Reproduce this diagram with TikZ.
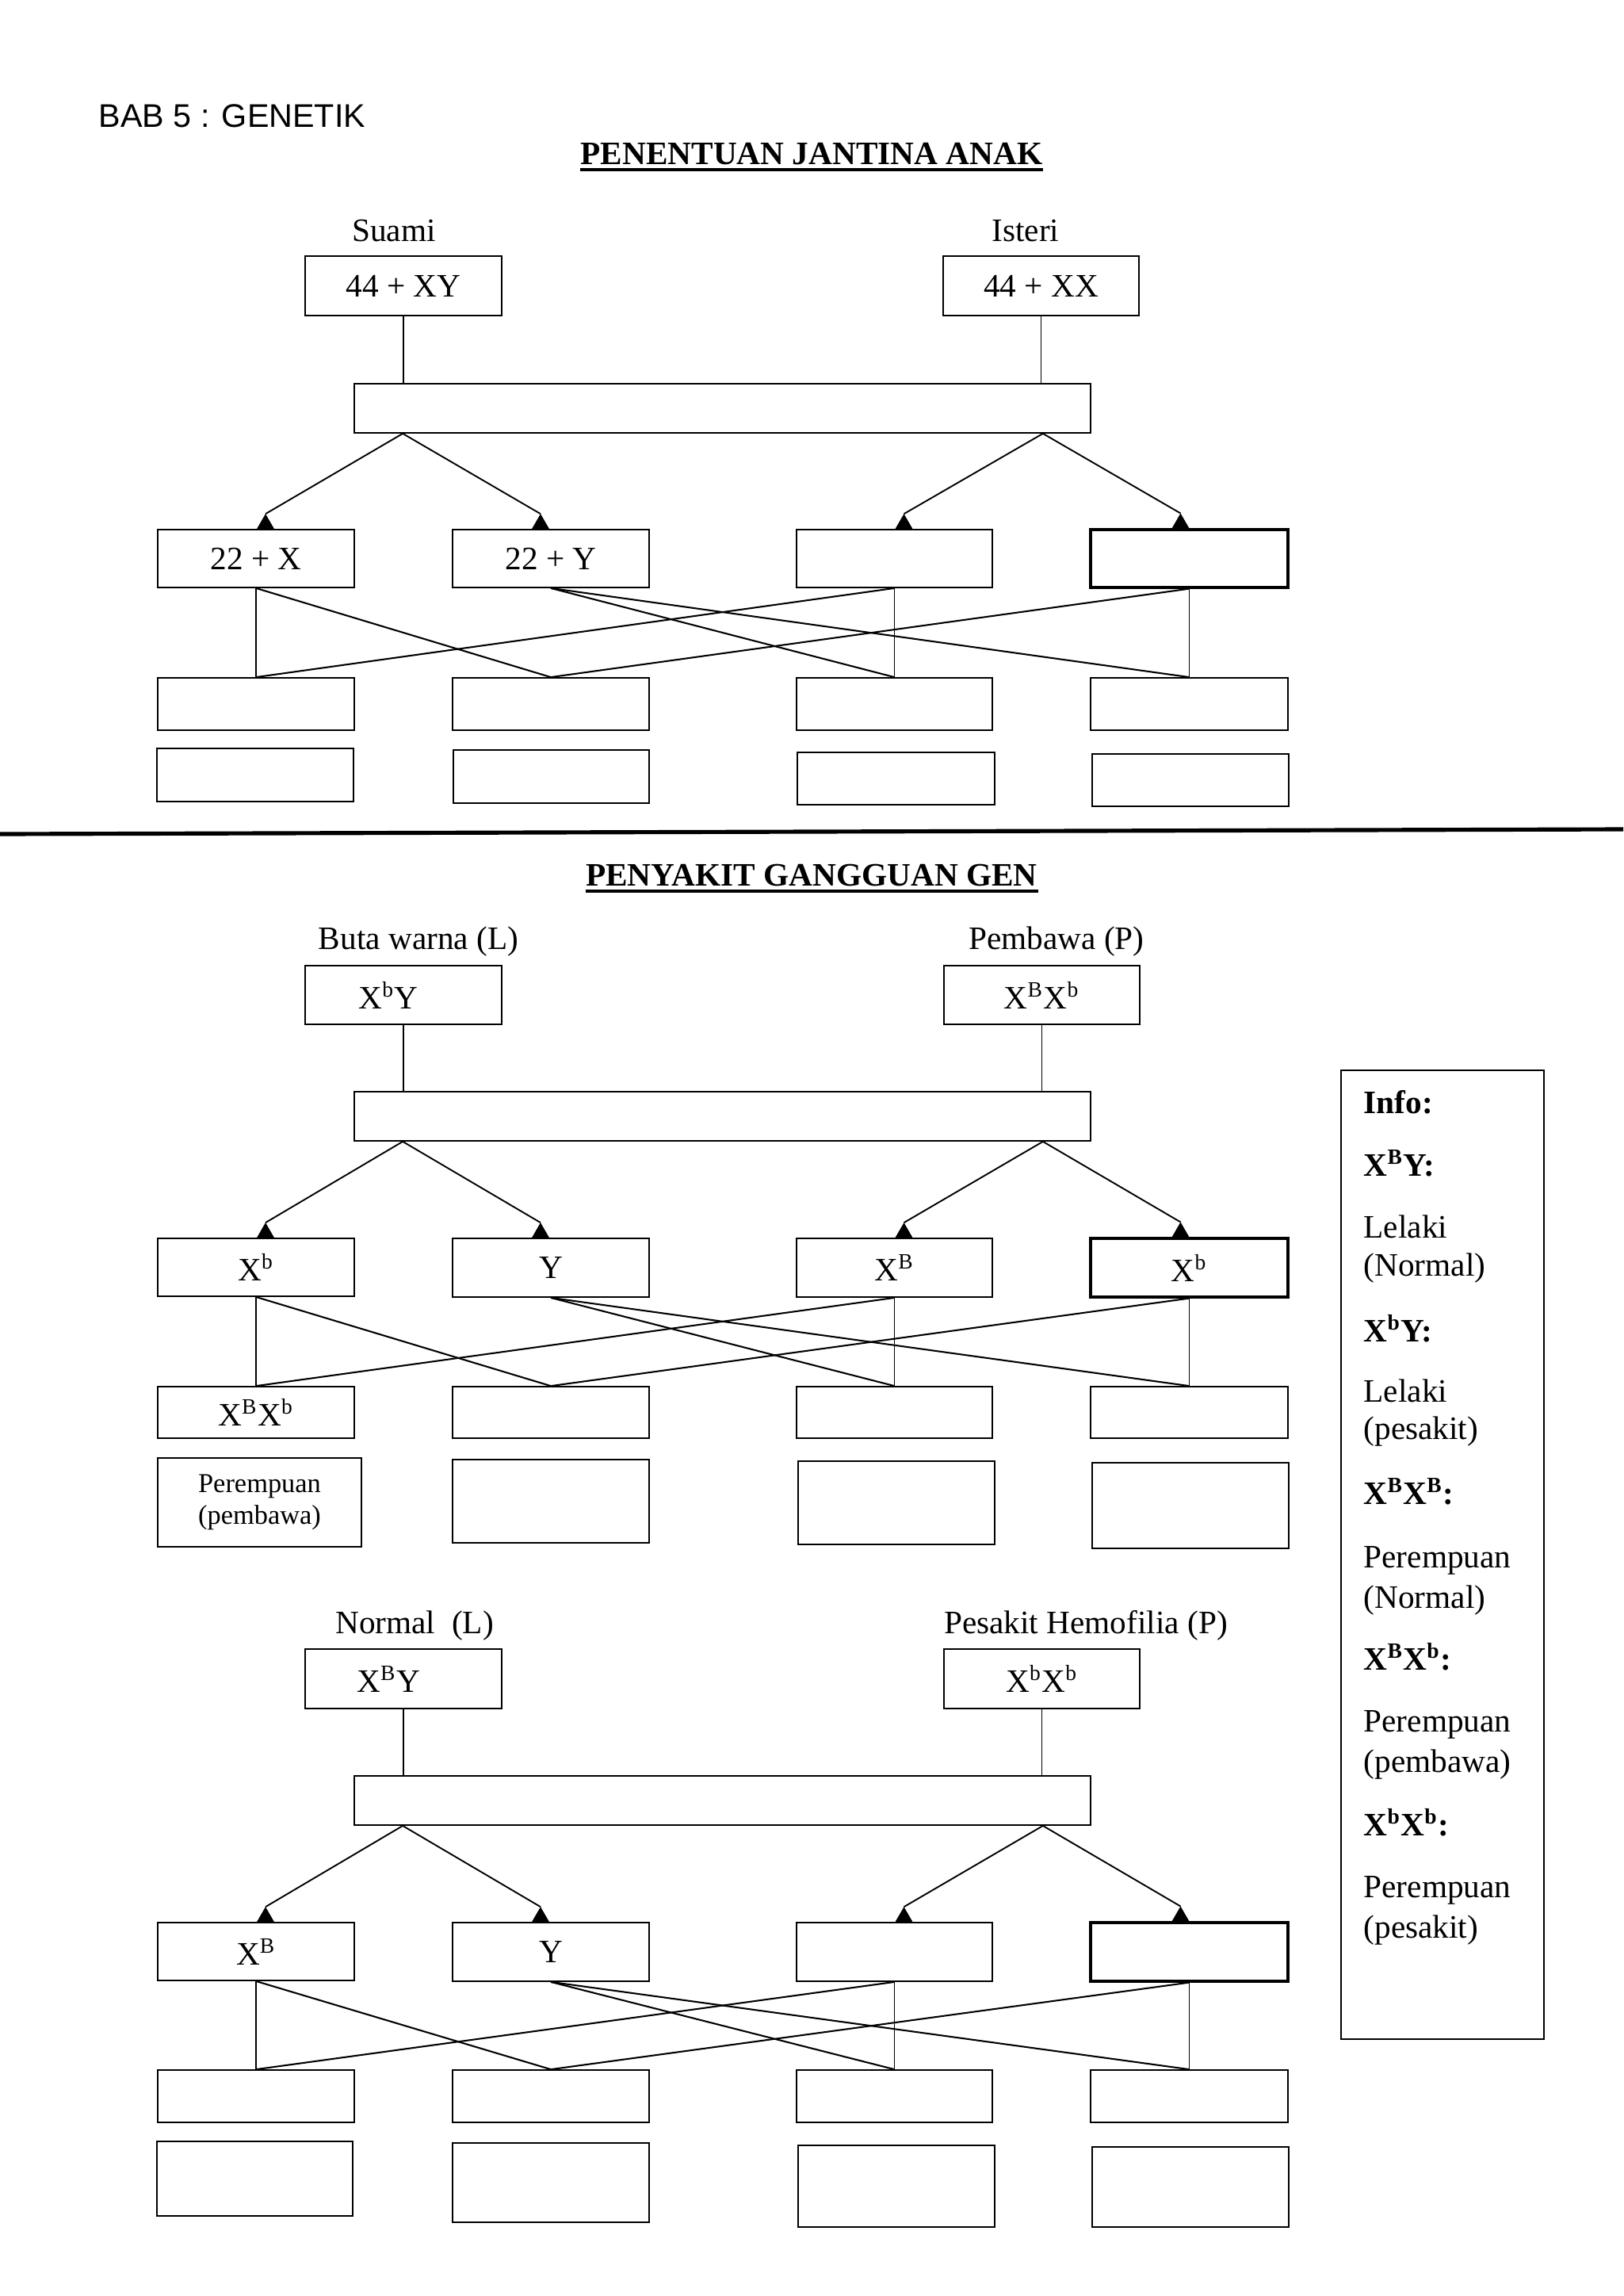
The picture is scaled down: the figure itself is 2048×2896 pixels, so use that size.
\documentclass[tikz,border=0pt]{standalone}
\usepackage{fontspec}
\setmainfont{Liberation Serif}
\newfontfamily\arialf{Liberation Sans}
\usetikzlibrary{calc}
\def\pxu{0.29066pt}
\tikzset{
  boxst/.style={draw, line width=0.5pt, inner sep=0pt, align=center, font=\fontsize{12}{14}\selectfont},
  thickbox/.style={line width=0.9pt},
  conn/.style={line width=0.55pt},
  cross/.style={line width=0.6pt},
  lbl/.style={anchor=base, inner sep=0pt, font=\fontsize{12}{14}\selectfont},
  infot/.style={anchor=base west, inner sep=0pt, font=\fontsize{12}{14}\selectfont},
  ttl/.style={anchor=base, inner sep=0pt, font=\fontsize{12}{14}\selectfont\bfseries},
  small/.style={font=\fontsize{10}{11.6}\selectfont}
}
% [style]{name}{x1}{y1}{x2}{y2}{text}
\newcommand\bx[7][]{\node[boxst,minimum width={(#5-#3)*\pxu},minimum height={(#6-#4)*\pxu},#1] (#2) at ({(#3+#5)/2},{(#4+#6)/2}) {#7};}
% arrow: from, apex position, apex name
\newcommand\arr[3]{\coordinate (#3) at #2; \draw[conn] (#1) -- (#3); \fill (#3) -- ++(-11,19) -- ++(22,0) -- cycle;}
\newcommand\wires[1]{%
  \coordinate (#1L) at ($(#1g.south west)+(62,0)$);
  \coordinate (#1R) at ($(#1g.south east)+(-61,0)$);
  \draw[conn] (#1m.south) -- (#1m.south |- #1g.north);
  \draw[conn] (#1f.south) -- (#1f.south |- #1g.north);
  \arr{#1L}{($(#1a1.north)+(12,-19)$)}{#1t1}
  \arr{#1L}{($(#1a2.north)+(-13,-19)$)}{#1t2}
  \arr{#1R}{($(#1a3.north)+(12,-19)$)}{#1t3}
  \arr{#1R}{($(#1a4.north)+(-11,-19)$)}{#1t4}
  \draw[conn] (#1a1.south) -- (#1b1.north);
  \draw[conn] (#1a3.south) -- (#1b3.north);
  \draw[conn] (#1a4.south) -- (#1b4.north);
  \draw[cross] (#1a1.south) -- (#1b2.north);
  \draw[cross] (#1a2.south) -- (#1b3.north);
  \draw[cross] (#1a2.south) -- (#1b4.north);
  \draw[cross] (#1a3.south) -- (#1b1.north);
  \draw[cross] (#1a4.south) -- (#1b2.north);
}
\newcommand\sps[1]{\textsuperscript{#1}}
\begin{document}
\begin{tikzpicture}[x=0.29066pt, y=-0.29066pt]
\useasboundingbox (0,0) rectangle (2048,2896);
\fill[white] (0,0) rectangle (2048,2896);

% header
\node[anchor=base west, inner sep=0pt, font=\arialf\fontsize{12}{14}\selectfont] (bab) at (124,160) {BAB 5 : GENETIK};
\node[ttl] (t1) at (1024,207) {PENENTUAN JANTINA ANAK};
\draw[line width=1.1pt] ($(t1.base west)+(0,7)$) -- ($(t1.base east)+(0,7)$);

% ---------- section 1 ----------
\node[lbl] (s1ml) at (497,304) {Suami};
\node[lbl] (s1fl) at (1294,304) {Isteri};
\bx{s1m}{385}{323}{633}{398}{44 + XY}
\bx{s1f}{1190}{323}{1437}{398}{44 + XX}
\bx{s1g}{447}{484}{1376}{546}{}
\bx{s1a1}{199}{668}{447}{741}{22 + X}
\bx{s1a2}{571}{668}{819}{741}{22 + Y}
\bx{s1a3}{1005}{668}{1252}{741}{}
\bx[thickbox]{s1a4}{1376}{668}{1625}{741}{}
\bx{s1b1}{199}{855}{447}{921}{}
\bx{s1b2}{571}{855}{819}{921}{}
\bx{s1b3}{1005}{855}{1252}{921}{}
\bx{s1b4}{1376}{855}{1625}{921}{}
\bx{s1c1}{198}{944}{446}{1011}{}
\bx{s1c2}{572}{946}{819}{1013}{}
\bx{s1c3}{1006}{949}{1255}{1015}{}
\bx{s1c4}{1378}{951}{1626}{1017}{}
\wires{s1}

% separator
\coordinate (sepL) at (0,1052);
\coordinate (sepR) at (2048,1046);
\draw[line width=1.5pt] (sepL) -- (sepR);

\node[ttl] (t2) at (1024,1117) {PENYAKIT GANGGUAN GEN};
\draw[line width=1.1pt] ($(t2.base west)+(0,7)$) -- ($(t2.base east)+(0,7)$);

% ---------- section 2 ----------
\node[lbl] (s2ml) at (528,1197) {Buta warna (L)};
\node[lbl] (s2fl) at (1333,1197) {Pembawa (P)};
\bx{s2m}{385}{1218}{633}{1292}{X\sps{b}Y\hspace*{11pt}}
\bx{s2f}{1191}{1218}{1438}{1292}{X\sps{B}X\sps{b}}
\bx{s2g}{447}{1377}{1376}{1439}{}
\bx{s2a1}{199}{1562}{447}{1635}{X\sps{b}}
\bx{s2a2}{571}{1562}{819}{1636}{Y}
\bx{s2a3}{1005}{1562}{1252}{1636}{X\sps{B}}
\bx[thickbox]{s2a4}{1376}{1562}{1625}{1636}{X\sps{b}}
\bx{s2b1}{199}{1749}{447}{1814}{X\sps{B}X\sps{b}}
\bx{s2b2}{571}{1749}{819}{1814}{}
\bx{s2b3}{1005}{1749}{1252}{1814}{}
\bx{s2b4}{1376}{1749}{1625}{1814}{}
\bx[small]{s2c1}{199}{1839}{456}{1951}{Perempuan\\(pembawa)}
\bx{s2c2}{571}{1841}{819}{1946}{}
\bx{s2c3}{1007}{1843}{1255}{1948}{}
\bx{s2c4}{1378}{1845}{1626}{1953}{}
\wires{s2}

% ---------- section 3 ----------
\node[lbl] (s3ml) at (523,2060) {Normal\ \ (L)};
\node[lbl] (s3fl) at (1370,2060) {Pesakit Hemofilia (P)};
\bx{s3m}{385}{2080}{633}{2155}{X\sps{B}Y\hspace*{11pt}}
\bx{s3f}{1191}{2080}{1438}{2155}{X\sps{b}X\sps{b}}
\bx{s3g}{447}{2240}{1376}{2302}{}
\bx{s3a1}{199}{2425}{447}{2498}{X\sps{B}}
\bx{s3a2}{571}{2425}{819}{2499}{Y}
\bx{s3a3}{1005}{2425}{1252}{2499}{}
\bx[thickbox]{s3a4}{1376}{2425}{1625}{2499}{}
\bx{s3b1}{199}{2611}{447}{2677}{}
\bx{s3b2}{571}{2611}{819}{2677}{}
\bx{s3b3}{1005}{2611}{1252}{2677}{}
\bx{s3b4}{1376}{2611}{1625}{2677}{}
\bx{s3c1}{198}{2701}{445}{2795}{}
\bx{s3c2}{571}{2703}{819}{2803}{}
\bx{s3c3}{1007}{2706}{1255}{2809}{}
\bx{s3c4}{1378}{2708}{1626}{2809}{}
\wires{s3}

% ---------- info box ----------
\bx[line width=0.6pt]{info}{1692}{1350}{1948}{2572}{}
\node[infot] (i1) at (1720,1404) {\textbf{Info:}};
\node[infot] (i2) at (1720,1483) {\textbf{X\sps{B}Y:}};
\node[infot] (i3) at (1720,1561) {Lelaki};
\node[infot] (i4) at (1720,1609) {(Normal)};
\node[infot] (i5) at (1720,1692) {\textbf{X\sps{b}Y:}};
\node[infot] (i6) at (1720,1768) {Lelaki};
\node[infot] (i7) at (1720,1815) {(pesakit)};
\node[infot] (i8) at (1720,1897) {\textbf{X\sps{B}X\sps{B}:}};
\node[infot] (i9) at (1720,1977) {Perempuan};
\node[infot] (i10) at (1720,2028) {(Normal)};
\node[infot] (i11) at (1720,2106) {\textbf{X\sps{B}X\sps{b}:}};
\node[infot] (i12) at (1720,2184) {Perempuan};
\node[infot] (i13) at (1720,2235) {(pembawa)};
\node[infot] (i14) at (1720,2315) {\textbf{X\sps{b}X\sps{b}:}};
\node[infot] (i15) at (1720,2393) {Perempuan};
\node[infot] (i16) at (1720,2444) {(pesakit)};
\end{tikzpicture}
\end{document}
